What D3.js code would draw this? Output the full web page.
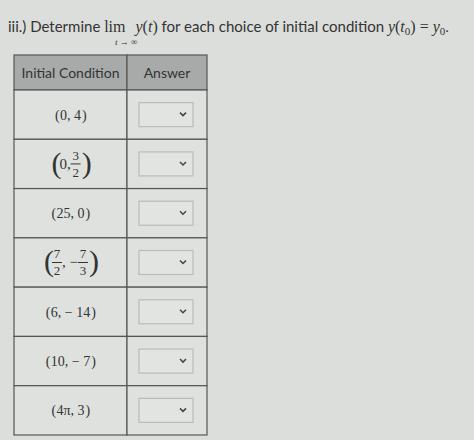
<!DOCTYPE html><html><head><script src="https://cdn.jsdelivr.net/npm/d3@7"></script>
<style>body{margin:0;background:#dcdedc}</style></head><body><svg id="s" width="474" height="440"></svg>
<script>
const headers=["Initial Condition","Answer"];
// each condition: list of parts, a part is either text or [numerator, denominator]
const conditions=[
 ["0, 4"],
 ["0, ",["3","2"]],
 ["25, 0"],
 [["7","2"],", − ",["7","3"]],
 ["6, − 14"],
 ["10, − 7"],
 ["4π, 3"]
];
const svg=d3.select("#s");
svg.append("rect").attr("width",474).attr("height",440).attr("fill","#dcdedc");
const title=svg.append("text").attr("y",32).attr("font-family","Lato, sans-serif").attr("font-size",15).attr("fill","#333");
title.append("tspan").attr("x",8).text("iii.) Determine ");
title.append("tspan").attr("font-family","Liberation Serif").attr("font-size",16).text("lim");
title.append("tspan").attr("dx",10).attr("font-family","Liberation Serif").attr("font-style","italic").attr("font-size",16).text("y");
title.append("tspan").attr("font-family","Liberation Serif").attr("font-size",16).text("(");
title.append("tspan").attr("font-family","Liberation Serif").attr("font-style","italic").attr("font-size",16).text("t");
title.append("tspan").attr("font-family","Liberation Serif").attr("font-size",16).text(")");
title.append("tspan").text(" for each choice of initial condition ");
title.append("tspan").attr("font-family","Liberation Serif").attr("font-style","italic").attr("font-size",16).text("y");
title.append("tspan").attr("font-family","Liberation Serif").attr("font-size",16).text("(");
title.append("tspan").attr("font-family","Liberation Serif").attr("font-style","italic").attr("font-size",16).text("t");
title.append("tspan").attr("font-family","Liberation Serif").attr("font-size",11).attr("dy",3).text("0");
title.append("tspan").attr("font-family","Liberation Serif").attr("font-size",16).attr("dy",-3).text(") = ");
title.append("tspan").attr("font-family","Liberation Serif").attr("font-style","italic").attr("font-size",16).text("y");
title.append("tspan").attr("font-family","Liberation Serif").attr("font-size",11).attr("dy",3).text("0");
title.append("tspan").attr("dy",-3).attr("font-family","Liberation Serif").text(".");
svg.append("text").attr("x",115).attr("y",45).attr("font-family","Liberation Serif").attr("font-style","italic").attr("font-size",9).attr("fill","#333").text("t → ∞");

const x=d3.scaleOrdinal().domain(headers).range([14,127]);
const w={"Initial Condition":113,"Answer":80};
const y=d3.scaleBand().domain(d3.range(conditions.length)).range([90,435]);
const hdr=svg.append("g");
hdr.selectAll("rect").data(headers).join("rect").attr("x",d=>x(d)).attr("y",55).attr("width",d=>w[d]).attr("height",35)
 .attr("fill","#a8aaa9").attr("stroke","#555").attr("stroke-width",1.2);
hdr.selectAll("text").data(headers).join("text").attr("x",d=>x(d)+w[d]/2).attr("y",78).attr("text-anchor","middle")
 .attr("font-family","Lato, sans-serif").attr("font-size",14).attr("fill","#333").text(d=>d);
const rows=svg.append("g").selectAll("g").data(conditions).join("g").attr("transform",(d,i)=>`translate(0,${y(i)})`);
rows.append("rect").attr("x",14).attr("width",113).attr("height",y.bandwidth()).attr("fill","#dfe1df").attr("stroke","#555").attr("stroke-width",1.2);
rows.append("rect").attr("x",127).attr("width",80).attr("height",y.bandwidth()).attr("fill","#dfe1df").attr("stroke","#555").attr("stroke-width",1.2);
rows.append("rect").attr("x",139).attr("y",y.bandwidth()/2-12).attr("width",54).attr("height",24).attr("fill","#e2e4e2").attr("stroke","#b9bcba").attr("stroke-width",1.2);
rows.append("path").attr("d",`M180,${y.bandwidth()/2-2} l3,3 l3,-3`).attr("fill","none").attr("stroke","#444").attr("stroke-width",1.5);
rows.each(function(parts){
  const g=d3.select(this), cy=y.bandwidth()/2, hasFrac=parts.some(p=>Array.isArray(p));
  const t=g.append("g").attr("font-family","Liberation Serif").attr("fill","#333");
  let cx=0; const items=[];
  const sz=hasFrac?15:14;
  const measure=(s,f)=>{const n=t.append("text").attr("font-size",f).text(s);const b=n.node().getComputedTextLength();n.remove();return b;};
  const open=hasFrac?"(":"(";
  items.push({s:"(",x:cx,big:hasFrac});cx+=hasFrac?8:5;
  parts.forEach(p=>{
    if(Array.isArray(p)){items.push({f:p,x:cx});cx+=10;}
    else{items.push({s:p,x:cx});cx+=measure(p,sz);}
  });
  items.push({s:")",x:cx+1,big:hasFrac});cx+=hasFrac?9:5;
  const x0=70.5-cx/2;
  items.forEach(it=>{
    if(it.f){
      t.append("text").attr("x",x0+it.x+5).attr("y",cy-4).attr("text-anchor","middle").attr("font-size",13).text(it.f[0]);
      t.append("line").attr("x1",x0+it.x).attr("x2",x0+it.x+10).attr("y1",cy).attr("y2",cy).attr("stroke","#333");
      t.append("text").attr("x",x0+it.x+5).attr("y",cy+13).attr("text-anchor","middle").attr("font-size",13).text(it.f[1]);
    } else if(it.big){
      t.append("text").attr("x",x0+it.x).attr("y",cy+9).attr("font-size",30).attr("font-weight",300).text(it.s);
    } else {
      t.append("text").attr("x",x0+it.x).attr("y",cy+5).attr("font-size",sz).text(it.s);
    }
  });
});
</script></body></html>
